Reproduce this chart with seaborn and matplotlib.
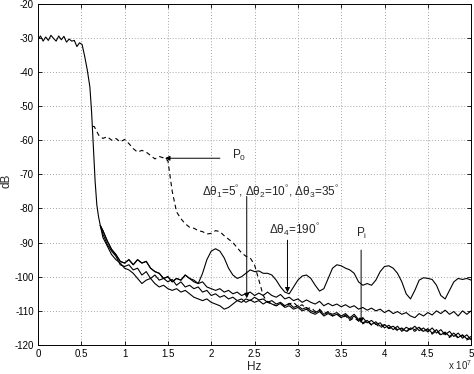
import numpy as np
import pandas as pd
import matplotlib
matplotlib.use("Agg")
import matplotlib.pyplot as plt
import seaborn as sns

# общая часть всех кривых (до спада), частота в единицах 1e7 Гц
freq_head = [0.00, 0.03, 0.06, 0.09, 0.12, 0.15, 0.18, 0.21, 0.24, 0.27, 0.30,
             0.33, 0.36, 0.39, 0.42, 0.45, 0.48, 0.51, 0.54, 0.57, 0.60, 0.62,
             0.64, 0.66, 0.68, 0.70, 0.72]
level_head = [-30.5, -29.5, -31.0, -29.8, -30.8, -29.3, -30.2, -31.0, -29.5, -30.6, -29.6,
              -31.3, -30.4, -31.0, -30.8, -32.6, -31.5, -32.0, -35.5, -39.5, -44.5, -52.0,
              -62.0, -72.0, -79.0, -82.5, -85.0]

# хвосты сплошных кривых, шаг 0.05 от 0.75 до 5.0
freq_tail = np.linspace(0.75, 5.0, 86)

level_b = [-86.5, -89.5, -92.0, -93.5, -95.5, -96.0, -95.0, -96.5, -95.0, -96.0,
           -95.5, -97.5, -98.5, -99.0, -100.5, -100.0, -101.5, -100.5, -101.0, -99.5,
           -100.5, -101.0, -102.0, -101.5, -103.0, -103.5, -104.0, -103.5, -104.5, -104.0,
           -105.0, -104.5, -105.5, -105.0, -104.5, -105.5, -104.8, -105.5, -104.5, -105.5,
           -106.0, -105.2, -106.5, -106.0, -107.0, -106.5, -107.5, -106.8, -107.5, -108.0,
           -107.2, -108.5, -107.8, -108.5, -108.0, -108.8, -108.2, -109.0, -108.5, -109.5,
           -109.0, -109.8, -109.2, -110.0, -109.5, -110.5, -109.8, -110.8, -110.2, -111.0,
           -110.5, -111.5, -112.0, -110.8, -111.5, -110.5, -111.2, -110.0, -110.8, -109.8,
           -111.0, -110.2, -111.5, -110.0, -111.0, -110.0]

level_c = [-87.5, -90.5, -92.5, -94.0, -96.5, -97.0, -96.5, -98.0, -97.5, -99.5,
           -98.5, -100.5, -99.5, -101.0, -100.5, -101.5, -100.8, -102.5, -101.5, -103.0,
           -102.5, -103.5, -103.0, -104.5, -104.0, -105.5, -105.0, -106.0, -105.5, -106.5,
           -106.0, -107.0, -106.5, -107.5, -106.8, -107.5, -107.0, -108.0, -107.2, -108.0,
           -108.5, -107.8, -109.0, -108.5, -109.5, -109.0, -110.0, -109.5, -110.5, -111.0,
           -110.2, -111.5, -110.8, -111.5, -111.0, -112.0, -111.2, -112.5, -111.5, -112.8,
           -112.0, -113.5, -112.8, -114.0, -113.5, -115.0, -114.2, -115.5, -114.5, -116.0,
           -114.8, -115.5, -114.5, -115.8, -115.0, -116.2, -115.0, -116.5, -115.5, -117.0,
           -116.0, -117.5, -116.5, -118.0, -117.0, -118.5]

level_d = [-88.5, -91.0, -93.5, -95.0, -96.0, -97.5, -98.0, -99.0, -100.5, -102.0,
           -101.0, -100.5, -102.0, -103.0, -102.5, -103.5, -104.0, -103.5, -104.5, -104.0,
           -105.0, -106.0, -106.5, -107.0, -106.5, -107.5, -108.0, -108.5, -109.5, -109.0,
           -108.0, -107.0, -107.5, -106.5, -107.0, -106.0, -106.8, -106.5, -107.5, -107.0,
           -108.0, -107.5, -108.5, -107.8, -109.0, -108.5, -109.5, -109.0, -110.0, -110.5,
           -109.8, -111.0, -110.5, -111.0, -110.5, -111.5, -110.8, -112.0, -111.0, -112.5,
           -113.5, -112.8, -114.0, -113.2, -114.5, -114.0, -115.0, -114.5, -115.5, -115.0,
           -116.0, -115.0, -115.5, -114.8, -116.0, -115.2, -116.5, -115.5, -117.0, -116.2,
           -117.5, -116.5, -117.8, -117.0, -118.2, -117.5]

# Δθ4 = 190°: совпадает с кривой b до 1.75, потом колебания
level_osc = level_b[:21] + [
    -101.5, -102.0, -99.0, -95.0, -92.5, -91.8, -92.5, -94.5, -97.5, -99.5,
    -100.5, -100.0, -99.0, -98.0, -98.5, -98.3, -99.0, -99.0, -99.5, -101.0,
    -103.0, -104.5, -105.0, -103.0, -101.0, -99.8, -99.5, -100.5, -102.5, -104.2,
    -103.5, -100.5, -97.5, -96.5, -96.8, -97.5, -98.0, -99.0, -101.5, -102.5,
    -102.0, -102.5, -101.0, -98.5, -97.0, -96.8, -97.5, -99.0, -101.5, -105.0,
    -106.5, -104.0, -101.0, -100.3, -100.5, -100.8, -102.5, -105.5, -106.5, -104.0,
    -101.5, -100.5, -100.8, -100.5, -101.0]

# P0 (пунктир), отходит от общей части на 0.63
freq_p0 = [0.63] + list(np.linspace(0.65, 5.0, 88))
level_p0 = [-56.0,
            -56.0, -58.5, -59.5, -59.0, -60.0, -59.5, -60.5, -59.8, -61.0, -62.5,
            -63.5, -63.0, -63.5, -64.5, -65.5, -64.8, -65.2, -66.0, -75.0, -81.0,
            -83.0, -84.5, -85.5, -85.8, -86.5, -86.8, -87.5, -87.3, -86.5, -86.8,
            -88.0, -89.0, -90.0, -91.5, -93.0, -94.0, -94.5, -96.5, -101.0, -105.5,
            -107.5, -108.0, -108.5, -108.0, -108.8,
            -108.0, -107.5, -108.8, -108.2, -109.5, -109.0, -110.2, -109.5, -110.8, -110.2,
            -111.5, -110.8, -112.0, -111.5, -112.8, -112.0, -113.0, -113.8, -113.0, -114.2,
            -113.8, -115.0, -114.2, -115.2, -114.8, -115.8, -115.2, -116.2, -115.2, -116.0,
            -115.0, -116.2, -115.5, -116.8, -115.8, -117.2, -116.5, -117.8, -116.8, -118.0,
            -117.2, -118.5, -118.0]

x_ticks = [0, 0.5, 1, 1.5, 2, 2.5, 3, 3.5, 4, 4.5, 5]
x_tick_labels = ["0", "0.5", "1", "1.5", "2", "2.5", "3", "3.5", "4", "4.5", "5"]
y_ticks = list(range(-120, -19, 10))

sns.set_style("ticks")
plt.rcParams["font.family"] = ["Liberation Sans", "DejaVu Sans"]
plt.rcParams["mathtext.fontset"] = "custom"
plt.rcParams["mathtext.rm"] = "Liberation Sans"
plt.rcParams["mathtext.it"] = "Liberation Sans:italic"
plt.rcParams["axes.unicode_minus"] = False

fig = plt.figure(figsize=(4.74, 3.74), dpi=100)
ax = fig.add_axes([0.080, 0.0775, 0.914, 0.913])

lw = 0.8
# общая часть рисуется один раз, хвосты — от последней её точки
df_head = pd.DataFrame({"freq": freq_head, "level": level_head})
sns.lineplot(data=df_head, x="freq", y="level", color="black", lw=lw, ax=ax, sort=False)
for tail in [level_b, level_c, level_d, level_osc]:
    df = pd.DataFrame({"freq": [freq_head[-1]] + list(freq_tail),
                       "level": [level_head[-1]] + list(tail)})
    sns.lineplot(data=df, x="freq", y="level", color="black", lw=lw, ax=ax, sort=False)

df_p0 = pd.DataFrame({"freq": freq_p0, "level": level_p0})
sns.lineplot(data=df_p0, x="freq", y="level", color="black", lw=lw,
             linestyle=(0, (4, 3)), ax=ax, sort=False)

ax.set_xlim(0, 5)
ax.set_ylim(-120, -20)
ax.set_xticks(x_ticks)
ax.set_xticklabels(x_tick_labels)
ax.set_yticks(y_ticks)
ax.tick_params(direction="in", top=True, right=True, length=3, width=0.6,
               labelsize=7, pad=3, colors="black")
for s in ax.spines.values():
    s.set_linewidth(0.7)
    s.set_color("black")
ax.grid(True, linestyle=(0, (1, 2.5)), color="#888888", lw=0.6)
ax.set_xlabel("Hz", fontsize=8.5, labelpad=1)
ax.set_ylabel("dB", fontsize=8.5)
ax.yaxis.set_label_coords(-0.059, 0.48)

arrow = dict(arrowstyle="-|>", color="black", lw=0.7, mutation_scale=7,
             shrinkA=0, shrinkB=0)
ax.annotate("", xy=(1.467, -65.3), xytext=(2.10, -65.3), arrowprops=arrow)
ax.text(2.24, -64.6, r"P$_\mathregular{0}$", fontsize=8.5, ha="left", va="center")

ax.annotate("", xy=(2.41, -106.3), xytext=(2.41, -76.5), arrowprops=arrow)
ax.text(2.69, -75.0,
        r"Δθ$_\mathregular{1}$=5$^\mathregular{°}$, Δθ$_\mathregular{2}$=10$^\mathregular{°}$, "
        r"Δθ$_\mathregular{3}$=35$^\mathregular{°}$",
        fontsize=8.5, ha="center", va="center")

ax.annotate("", xy=(2.88, -104.6), xytext=(2.88, -89.3), arrowprops=arrow)
ax.text(2.96, -86.0, r"Δθ$_\mathregular{4}$=190$^\mathregular{°}$",
        fontsize=8.5, ha="center", va="center")

ax.annotate("", xy=(3.73, -113.6), xytext=(3.73, -92.2), arrowprops=arrow)
ax.text(3.74, -87.2, r"P$_\mathregular{i}$", fontsize=8.5, ha="center", va="center")

fig.text(0.995, 0.005, r"x 10$^\mathregular{7}$", fontsize=7, ha="right", va="bottom")

fig.savefig("out.png", dpi=100)
